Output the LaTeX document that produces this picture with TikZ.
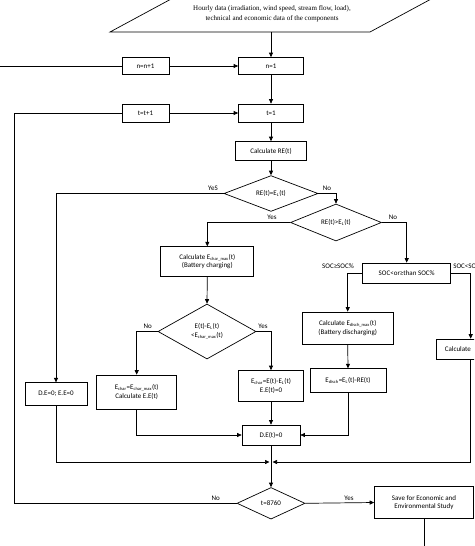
\documentclass[tikz,border=0pt]{standalone}
\usepackage{fontspec}
\setmainfont{Carlito}
\newfontfamily\serifx{Liberation Serif}
\usetikzlibrary{arrows.meta,shapes.geometric}
\tikzset{
  box/.style={draw, rectangle, inner sep=1pt, align=center, font=\fontsize{7}{8.6}\selectfont},
  dia/.style={draw, diamond, inner sep=0pt, align=center, font=\fontsize{7}{8.6}\selectfont},
  lbl/.style={font=\fontsize{7}{8}\selectfont, inner sep=0.5pt},
  arr/.style={-{Triangle[length=4.5pt,width=4pt]}},
}
\newcommand{\sbx}[1]{\textsubscript{\fontsize{4.5}{5}\selectfont #1}}
\begin{document}
\begin{tikzpicture}[x=1pt,y=-1pt,line width=0.7pt]
\useasboundingbox (0,0) rectangle (474,546);
\clip (0,0) rectangle (474,546);
\fill[white] (0,0) rectangle (474,546);
% input parallelogram
\draw (173,-2) -- (110,32) -- (370,32) -- (433,-2);
\node[font=\serifx\fontsize{7}{10.3}\selectfont, align=center] (in) at (272,14)
  {Hourly data (irradiation, wind speed, stream flow, load),\\technical and economic data of the components};
\coordinate (inb) at (271,32);
% boxes
\node[box, minimum width=65pt, minimum height=17pt] (n1) at (271,66) {n=1};
\node[box, minimum width=47pt, minimum height=17pt] (nn1) at (145.5,66) {n=n+1};
\node[box, minimum width=65pt, minimum height=18pt] (t1) at (271,113) {t=1};
\node[box, minimum width=47pt, minimum height=18pt] (tt1) at (145.5,113) {t=t+1};
\node[box, minimum width=71pt, minimum height=19pt] (cre) at (271,151) {Calculate RE(t)};
\node[dia, minimum width=94pt, minimum height=29pt] (d1) at (271,193.5) {RE(t)=E\sbx{L}(t)};
\node[dia, minimum width=91pt, minimum height=37pt] (d2) at (336,222.5) {RE(t)>E\sbx{L}(t)};
\node[box, minimum width=93pt, minimum height=30pt] (cmax) at (207.3,261.7) {Calculate E\sbx{char\_max}(t)\\(Battery charging)};
\node[box, minimum width=88pt, minimum height=20pt] (soc) at (406.7,273) {SOC<or≥than SOC\%};
\node[dia, minimum width=98pt, minimum height=55pt] (d3) at (207,331.5) {E(t)-E\sbx{L}(t)\\<E\sbx{char\_max}(t)};
\node[box, minimum width=91pt, minimum height=32pt] (dmax) at (347.7,328) {Calculate E\sbx{disch\_max}(t)\\(Battery discharging)};
\node[box, anchor=north west, text width=70pt, align=left, inner xsep=8.5pt, minimum height=20pt] (rc) at (436,338.7) {Calculate};
\node[box, minimum width=76pt, minimum height=24pt] (dis) at (348,380.7) {E\sbx{disch}=E\sbx{L}(t)-RE(t)};
\node[box, minimum width=80pt, minimum height=34pt] (ecm) at (136.7,392) {E\sbx{char}=E\sbx{char\_max}(t)\\Calculate E.E(t)};
\node[box, minimum width=65pt, minimum height=31pt] (ech) at (271,386) {E\sbx{char}=E(t)-E\sbx{L}(t)\\E.E(t)=0};
\node[box, minimum width=62pt, minimum height=22.6pt] (de0) at (56,394) {D.E=0; E.E=0};
\node[box, minimum width=58pt, minimum height=20pt] (de) at (271,435) {D.E(t)=0};
\coordinate (j) at (271,462);
\node[dia, minimum width=68pt, minimum height=31.6pt] (d4) at (271,503.3) {t=8760};
\node[box, minimum width=99pt, minimum height=31.6pt] (save) at (424,502.5) {Save for Economic and\\Environmental Study};
% helper coordinates
\coordinate (lx) at (14,0);
\coordinate (l0) at (-2,66);
\coordinate (rcx) at (470.7,0);
\coordinate (sb) at (424,550);
% connectors
\draw[arr] (inb) -- (n1.north);
\draw (l0) -- (nn1.west);
\draw[arr] (nn1.east) -- (n1.west);
\draw[arr] (n1.south) -- (t1.north);
\draw[arr] (tt1.east) -- (t1.west);
\draw (d4.west) -- (d4.west -| lx) -- (tt1.west -| lx) -- (tt1.west);
\draw[arr] (t1.south) -- (cre.north);
\draw[arr] (cre.south) -- (d1.north);
\draw[arr] (d1.west) -| (de0.north);
\draw[arr] (d1.east) -| (d2.north);
\draw[arr] (d2.west) -| (cmax.north);
\draw[arr] (d2.east) -| (soc.north);
\draw[arr] (cmax.south) -- (d3.north);
\draw[arr] (d3.west) -| (ecm.north);
\draw[arr] (d3.east) -| (ech.north);
\draw[arr] (soc.west) -| (dmax.north);
\draw[arr] (soc.east) -| (rcx |- rc.north);
\draw[arr] (dmax.south) -- (dis.north);
\draw[arr] (ecm.south) |- (de.west);
\draw[arr] (dis.south) |- (de.east);
\draw[arr] (ech.south) -- (de.north);
\draw[arr] (de.south) -- (d4.north);
\draw[arr, shorten >=1.5pt] (de0.south) |- (j);
\draw[arr, shorten >=1.5pt] (rcx |- rc.south) |- (j);
\draw[arr] (d4.east) -- (save.west);
\draw (save.south) -- (sb);
% labels
\node[lbl] (l1) at (213,188.5) {YeS};
\node[lbl] (l2) at (327,188.5) {No};
\node[lbl] (l3) at (272,217) {Yes};
\node[lbl] (l4) at (393,217) {No};
\node[lbl] (l5) at (147.7,326.5) {No};
\node[lbl] (l6) at (263,326) {Yes};
\node[lbl] (l7) at (338,266.5) {SOC≥SOC\%};
\node[lbl, anchor=west] (l8) at (452.5,266.5) {SOC<SOC\%};
\node[lbl] (l9) at (215.7,498) {No};
\node[lbl] (l10) at (349,498) {Yes};
\end{tikzpicture}
\end{document}
